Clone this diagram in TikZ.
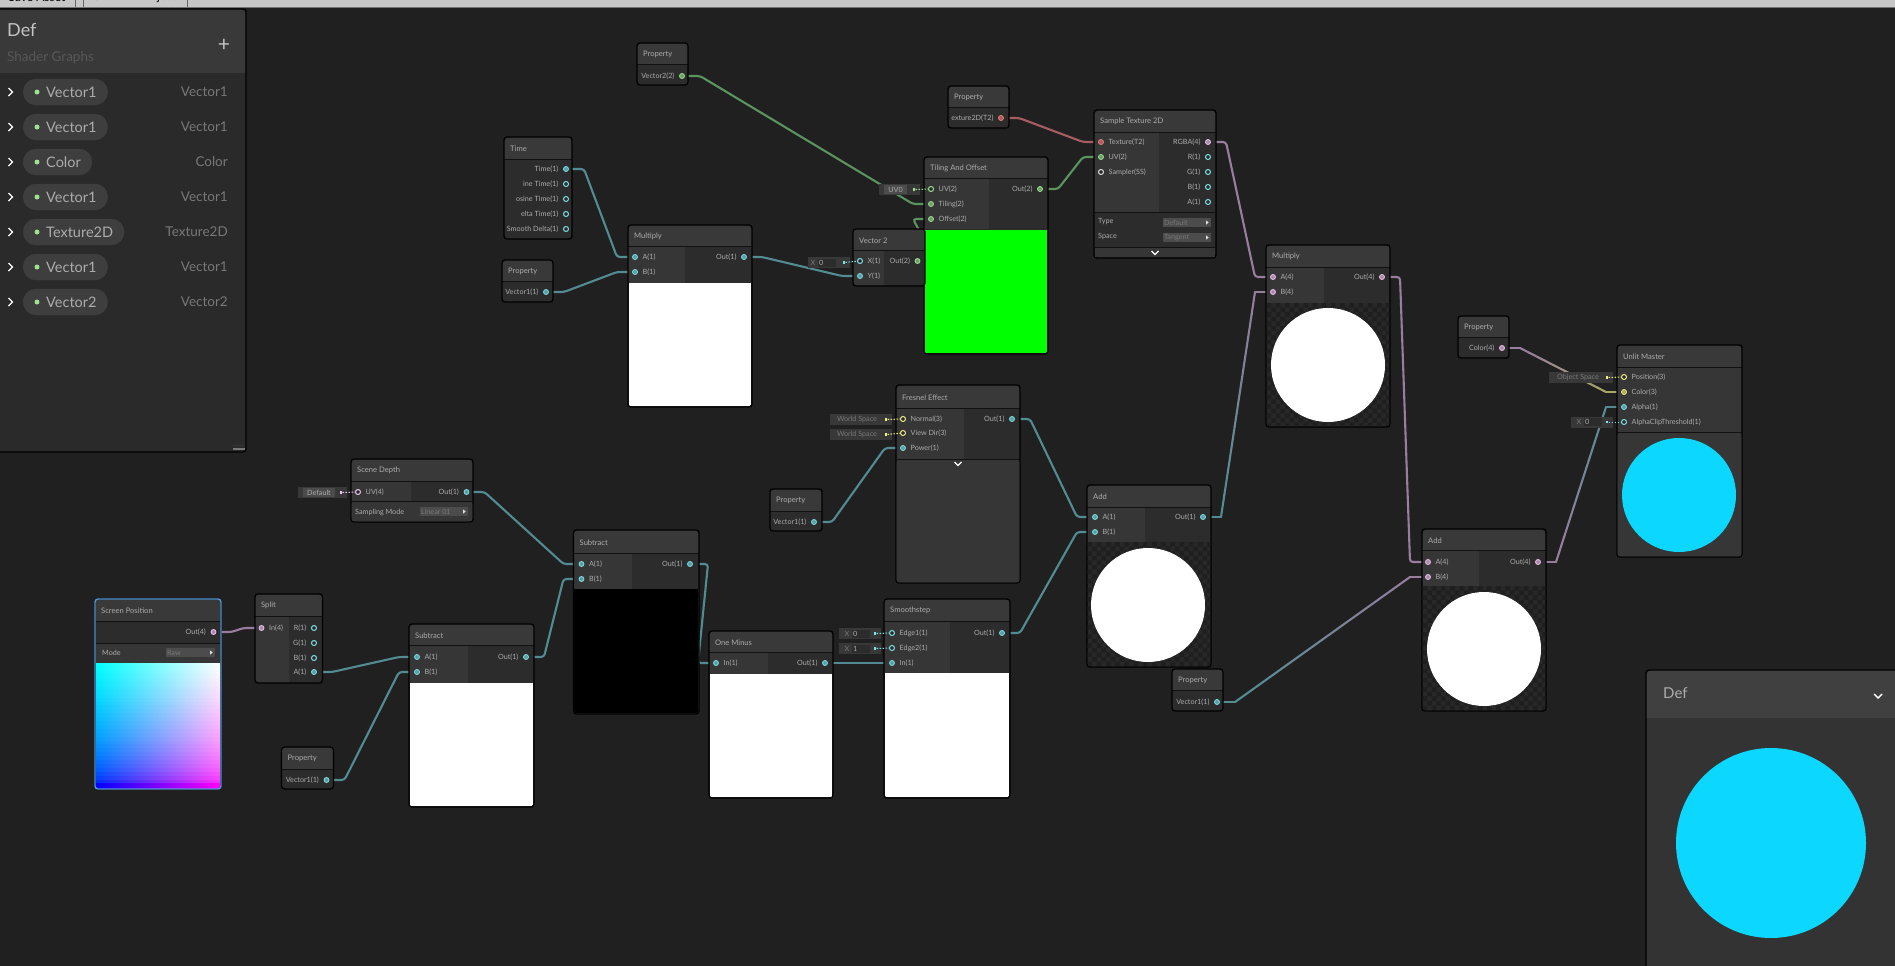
\documentclass[tikz,border=0pt]{standalone}
\usepackage{fontspec}
\setmainfont{Lato}
\usetikzlibrary{calc,fit}
\definecolor{canvasbg}{RGB}{32,32,32}
\definecolor{cardhead}{RGB}{57,57,57}
\definecolor{cardcol}{RGB}{54,54,54}
\definecolor{cardout}{RGB}{44,44,44}
\definecolor{cardtext}{RGB}{172,172,172}
\definecolor{brighttext}{RGB}{196,196,196}
\definecolor{dimtext}{RGB}{120,120,120}
\definecolor{faintext}{RGB}{88,88,88}
\definecolor{paneldark}{RGB}{42,42,42}
\definecolor{pillfill}{RGB}{62,62,62}
\definecolor{tagfill}{RGB}{56,56,56}
\definecolor{btnfill}{RGB}{76,76,76}
\definecolor{checklight}{RGB}{40,40,40}
\definecolor{checkdark}{RGB}{31,31,31}
\definecolor{discblue}{RGB}{11,215,255}
\definecolor{mainhead}{RGB}{64,64,64}
\definecolor{mainbody}{RGB}{51,51,51}
\definecolor{pcyan}{RGB}{126,226,232}
\definecolor{pgreen}{RGB}{156,226,144}
\definecolor{ppink}{RGB}{240,196,240}
\definecolor{pred}{RGB}{240,128,128}
\definecolor{pyellow}{RGB}{240,240,136}
\definecolor{pwhite}{RGB}{224,224,224}
\definecolor{wireteal}{RGB}{82,140,146}
\definecolor{wiregreen}{RGB}{92,148,96}
\definecolor{wirered}{RGB}{166,92,96}
\definecolor{wirepurple}{RGB}{153,125,158}
\definecolor{wireyellow}{RGB}{166,166,100}
\pgfdeclarelayer{canvas}
\pgfdeclarelayer{wires}
\pgfsetlayers{canvas,wires,main}

% card: name, x1, y1, x2, y2, head bottom, column edge, ports bottom, title
\newcommand{\gcard}[9]{
  \begin{scope}
    \clip[rounded corners=3pt] (#2,#3) rectangle (#4,#5);
    \fill[cardout] (#2,#3) rectangle (#4,#5);
    \fill[cardhead] (#2,#3) rectangle (#4,#6);
    \fill[cardcol] (#2,#6) rectangle (#7,#8);
  \end{scope}
  \draw[black!70!cardhead] (#2,#6) -- (#4,#6);
  \node[cardbody, fit={(#2,#3)(#4,#5)}] (#1) {};
  \node[cardtitle] (#1-t) at ($(#2,#3)!.5!(#2,#6)+(6,.8)$) {#9};
}
\newcommand{\inport}[5]{
  \node[#4] (#1) at (#2,#3) {};
  \node[portlabel, anchor=west] (#1-l) at ([xshift=4.5pt,yshift=-.4pt]#1.east) {#5};
}
\newcommand{\outport}[5]{
  \node[#4] (#1) at (#2,#3) {};
  \node[portlabel, anchor=east] (#1-l) at ([xshift=-4.5pt,yshift=-.4pt]#1.west) {#5};
}
% flat preview below the ports
\newcommand{\flatprev}[5]{
  \begin{scope}
    \clip[rounded corners=3pt] (#1,#2-10) rectangle (#3,#4);
    \fill[#5] (#1,#2) rectangle (#3,#4);
  \end{scope}
}
% checkered preview with a white disc
\newcommand{\discprev}[6]{
  \begin{scope}
    \clip[rounded corners=3pt] (#1,#2-10) rectangle (#3,#4);
    \fill[checklight] (#1,#2) rectangle (#3,#4);
    \foreach \ox in {0,1}
      \fill[checkdark] \foreach \i in {0,2,...,26} { \foreach \j in {0,2,...,26} {
        ({#1+(\i+\ox)*4.6},{#2+(\j+\ox)*4.6}) rectangle ++(4.6,4.6) } };
  \end{scope}
  \fill[white] (#5,#6) circle (57);
}
\newcommand{\tagbox}[5]{
  \node[tagbody, fit={(#2,#3-5.5)(#4,#3+5.5)}] (#1) {};
  \node[tagdot, fill=#5] (#1-d) at (#4-6,#3) {};
}
\newcommand{\xfield}[4]{
  \node[taglabel] (#1-x) at (#2,#3) {X};
  \node[tagfield, anchor=west] (#1-v) at (#2+5,#3) {#4};
}
\newcommand{\dropbox}[6]{
  \node[dropbody, fit={(#2,#3)(#4,#5)}] (#1) {};
  \node[taglabel, anchor=west] (#1-t) at ([xshift=1pt]#1.west) {#6};
  \fill[pwhite] ([xshift=-5pt,yshift=2pt]#1.east) -- ++(2.5,2) -- ++(-2.5,2) -- cycle;
}
\newcommand{\chevdown}[2]{
  \draw[white, line width=1.2pt] (#1-3.5,#2-2) -- (#1,#2+1.5) -- (#1+3.5,#2-2);
}
\newcommand{\gwire}[4]{
  \coordinate (wa) at ($(#1)+(18,0)$);
  \coordinate (wb) at ($(#2)+(-18,0)$);
  \draw[wirepiece=#3] (#1) -- (wa);
  \draw[wirepiece=#4] (wb) -- (#2);
  \foreach \i [evaluate=\i as \j using int(\i+1), evaluate=\i as \m using int(100-\i*10)] in {0,...,9}
    \draw[wirepiece=#3!\m!#4] ($(wa)!\i/10!(wb)$) -- ($(wa)!\j/10!(wb)$);
}

\begin{document}
\begin{tikzpicture}[
  x=1pt, y=-1pt,
  cardbody/.style={rectangle, draw=black, line width=1.3pt, rounded corners=3pt, inner sep=0pt},
  cardtitle/.style={anchor=west, inner sep=0pt, text=cardtext, font=\fontsize{7.6}{9}\selectfont},
  portlabel/.style={inner sep=0pt, text=cardtext, font=\fontsize{7.2}{9}\selectfont},
  port/.style={circle, inner sep=0pt, minimum size=5pt, draw=#1, line width=.8pt, fill=#1!70!black},
  ring/.style={circle, inner sep=0pt, minimum size=5pt, draw=#1, line width=1pt, fill=cardout},
  wire/.style={line width=2.1pt, draw=#1, rounded corners=3pt,
    to path={-- ($(\tikztostart)+(18,0)$) -- ($(\tikztotarget)+(-18,0)$) -- (\tikztotarget)}},
  wirepiece/.style={line width=2.1pt, color=#1, line cap=round},
  stub/.style={draw=#1, line width=1pt, dash pattern=on 1.5pt off 1.5pt},
  tagbody/.style={rectangle, fill=tagfill, inner sep=0pt},
  tagdot/.style={rectangle, inner sep=0pt, minimum size=2.6pt},
  taglabel/.style={inner sep=0pt, text=dimtext, font=\fontsize{7.2}{9}\selectfont},
  tagfield/.style={inner sep=1pt, fill=cardout, minimum height=8pt, align=left, text=cardtext, font=\fontsize{7.2}{9}\selectfont, text width=16pt},
  tagbtn/.style={rectangle, fill=btnfill, inner sep=0pt, minimum height=9pt, text=cardtext, font=\fontsize{7.2}{9}\selectfont},
  dropbody/.style={rectangle, fill=btnfill, inner sep=0pt},
  pill/.style={rectangle, rounded corners=12.9pt, draw=black!75, fill=pillfill, minimum height=26pt, anchor=west, inner sep=0pt, align=left, text=cardtext, font=\fontsize{14.5}{16}\selectfont},
  typelabel/.style={anchor=east, inner sep=0pt, text=dimtext, font=\fontsize{13.5}{16}\selectfont}
]
\useasboundingbox (0,0) rectangle (1895,966);
\clip (0,0) rectangle (1895,966);
\begin{pgfonlayer}{canvas}
  \fill[canvasbg] (0,0) rectangle (1895,966);
\end{pgfonlayer}

% Top strip
\fill[black!22] (0,0) rectangle (1895,7);
\draw[black!55] (0,7.5) -- (1895,7.5);
\draw[black!60] (75.5,0) -- (75.5,7) (83.5,0) -- (83.5,7) (187.5,0) -- (187.5,7);
\begin{scope}
  \clip (0,0) rectangle (1895,7);
  \node[font=\fontsize{12}{14}\selectfont, text=black] (savebtn) at (37,-2.5) {Save Asset};
  \node[font=\fontsize{12}{14}\selectfont, text=black] (showbtn) at (135,-2.5) {Show In Project};
\end{scope}

% Blackboard
\begin{scope}
  \clip[rounded corners=4pt] (-4,9) rectangle (246,452);
  \fill[paneldark] (-4,9) rectangle (246,452);
  \fill[cardhead] (-4,9) rectangle (246,73);
\end{scope}
\node[cardbody, fit={(-4,9)(246,452)}] (board) {};
\node[anchor=west, inner sep=0pt, text=brighttext, font=\fontsize{18}{22}\selectfont] (boardname) at (7,30) {Def};
\node[anchor=west, inner sep=0pt, text=faintext, font=\fontsize{13.5}{16}\selectfont] (boardsub) at (7,57.5) {Shader Graphs};
\node[inner sep=0pt, text=brighttext, font=\fontsize{21}{22}\selectfont] (boardadd) at (224,45) {+};
\draw[black!80] (233,445) -- (245,445);
\draw[dimtext, line width=1.5pt] (233,449) -- (245,449);
\foreach \i/\lbl in {0/Vector1,1/Vector1,2/Color,3/Vector1,4/Texture2D,5/Vector1,6/Vector2} {
  \pgfmathsetmacro{\rowy}{92+35*\i}
  \draw[white, line width=1.4pt] (8.5,\rowy-4) -- (12.5,\rowy) -- (8.5,\rowy+4);
  \node[pill] (pill\i) at (23,\rowy) {\hspace{23pt}\lbl\hspace{11pt}};
  \fill[pgreen] (37,\rowy) circle (2.5);
  \node[typelabel] (type\i) at (228,\rowy) {\lbl};
}

% Top row
\gcard{propb}{637}{43}{688}{85}{64}{637}{85}{Property}
\outport{propb-o}{682}{76}{port=pgreen}{Vector2(2)}
\gcard{time}{504}{137}{572}{239}{159}{504}{239}{Time}
\outport{time-a}{566}{169}{port=pcyan}{Time(1)}
\outport{time-b}{566}{184}{ring=pcyan}{ine Time(1)}
\outport{time-c}{566}{199}{ring=pcyan}{osine Time(1)}
\outport{time-d}{566}{214}{ring=pcyan}{elta Time(1)}
\outport{time-e}{566}{229}{ring=pcyan}{Smooth Delta(1)}
\gcard{propa}{502}{260}{553}{302}{281}{502}{302}{Property}
\outport{propa-o}{546}{292}{port=pcyan}{Vector1(1)}
\gcard{mula}{628}{225}{752}{407}{246}{685}{283}{Multiply}
\inport{mula-a}{635}{257}{port=pcyan}{A(1)}
\inport{mula-b}{635}{272}{port=pcyan}{B(1)}
\outport{mula-o}{744}{257}{port=pcyan}{Out(1)}
\flatprev{628.6}{283}{751.4}{406.4}{white}
\gcard{tile}{924}{157}{1048}{354}{178}{989}{229}{Tiling And Offset}
\inport{tile-u}{931}{189}{ring=pgreen}{UV(2)}
\inport{tile-t}{931}{204}{port=pgreen}{Tiling(2)}
\inport{tile-f}{931}{219}{port=pgreen}{Offset(2)}
\outport{tile-o}{1040}{189}{port=pgreen}{Out(2)}
\flatprev{924.6}{229.5}{1047.4}{353.4}{green}
\gcard{veca}{853}{229}{925}{286}{250}{884}{286}{Vector 2}
\inport{veca-x}{860}{261}{ring=pcyan}{X(1)}
\inport{veca-y}{860}{276}{port=pcyan}{Y(1)}
\outport{veca-o}{917.5}{261}{port=pgreen}{Out(2)}
\gcard{propt}{948}{86}{1009}{128}{107}{948}{128}{Property}
\outport{propt-o}{1001}{118}{port=pred}{exture2D(T2)}
\gcard{samp}{1094}{110}{1216}{258}{132}{1159}{212}{Sample Texture 2D}
\fill[cardcol] (1094.7,247) rectangle (1215.3,257);
\draw[black!70!cardhead] (1094,212) -- (1216,212) (1094,247) -- (1216,247);
\inport{samp-t}{1101}{142}{port=pred}{Texture(T2)}
\inport{samp-u}{1101}{157}{port=pgreen}{UV(2)}
\inport{samp-s}{1101}{172}{ring=pwhite}{Sampler(SS)}
\outport{samp-o}{1208}{142}{port=ppink}{RGBA(4)}
\outport{samp-r}{1208}{157}{ring=pcyan}{R(1)}
\outport{samp-g}{1208}{172}{ring=pcyan}{G(1)}
\outport{samp-b}{1208}{187}{ring=pcyan}{B(1)}
\outport{samp-e}{1208}{202}{ring=pcyan}{A(1)}
\node[portlabel, anchor=west] (samp-ty) at (1098,222) {Type};
\node[portlabel, anchor=west] (samp-sp) at (1098,237) {Space};
\dropbox{samp-dt}{1163}{218}{1211}{227}{Default}
\dropbox{samp-ds}{1163}{233}{1211}{242}{Tangent}
\chevdown{1155}{253}
\gcard{mulb}{1266}{245}{1390}{427}{267}{1324}{303}{Multiply}
\inport{mulb-a}{1273}{277}{port=ppink}{A(4)}
\inport{mulb-b}{1273}{292}{port=ppink}{B(4)}
\outport{mulb-o}{1382}{277}{port=ppink}{Out(4)}
\discprev{1266.6}{303}{1389.4}{426.4}{1328}{365}

% Middle row
\gcard{fres}{896}{385}{1020}{583}{408}{964}{459}{Fresnel Effect}
\fill[cardcol, rounded corners=2pt] (896.7,460) rectangle (1019.3,582.3);
\draw[black!70!cardhead] (896,459) -- (1020,459);
\inport{fres-n}{903}{419}{ring=pyellow}{Normal(3)}
\inport{fres-v}{903}{433}{ring=pyellow}{View Dir(3)}
\inport{fres-p}{903}{448}{port=pcyan}{Power(1)}
\outport{fres-o}{1012}{419}{port=pcyan}{Out(1)}
\chevdown{958}{464}
\gcard{propf}{770}{489}{822}{531}{511}{770}{531}{Property}
\outport{propf-o}{814}{522}{port=pcyan}{Vector1(1)}
\gcard{adda}{1087}{485}{1211}{667}{507}{1145}{542}{Add}
\inport{adda-a}{1095}{517}{port=pcyan}{A(1)}
\inport{adda-b}{1095}{532}{port=pcyan}{B(1)}
\outport{adda-o}{1203}{517}{port=pcyan}{Out(1)}
\discprev{1087.6}{542}{1210.4}{666.4}{1148}{605}
\gcard{depth}{351}{459}{473}{522}{481}{411}{501}{Scene Depth}
\fill[cardcol, rounded corners=2pt] (351.7,502) rectangle (472.3,521.3);
\draw[black!70!cardhead] (351,501) -- (473,501);
\inport{depth-u}{358}{492}{ring=ppink}{UV(4)}
\outport{depth-o}{466.5}{492}{port=pcyan}{Out(1)}
\node[portlabel, anchor=west] (depth-m) at (355,512) {Sampling Mode};
\dropbox{depth-d}{420}{507}{468}{516}{Linear 01}
\gcard{suba}{573.5}{530}{699}{714}{553}{632}{589}{Subtract}
\inport{suba-a}{581.5}{564}{port=pcyan}{A(1)}
\inport{suba-b}{581.5}{579}{port=pcyan}{B(1)}
\outport{suba-o}{690}{564}{port=pcyan}{Out(1)}
\flatprev{574.1}{589}{698.4}{713.4}{black}

% Bottom row
\gcard{screen}{95}{599}{221}{789}{621}{95}{643}{Screen Position}
\fill[cardcol] (95.7,644) rectangle (220.3,663);
\draw[black!70!cardhead] (95,643) -- (221,643);
\outport{screen-o}{213.5}{632}{port=ppink}{Out(4)}
\node[portlabel, anchor=west] (screen-m) at (102,652.5) {Mode};
\dropbox{screen-d}{166}{648}{215}{657}{Raw}
\foreach \i in {0,...,31} {
  \pgfmathsetmacro{\gval}{pow(1-\i/31,0.5)}
  \definecolor{rowl}{rgb}{0,\gval,1}
  \definecolor{rowm}{rgb}{.72,\gval,1}
  \definecolor{rowr}{rgb}{1,\gval,1}
  \shade[left color=rowl, middle color=rowm, right color=rowr] (96,{663+\i*3.9}) rectangle (220,{663+(\i+1)*3.9+.6});
}
\draw[rounded corners=3pt, draw=cyan!60!blue!70!white, line width=1.4pt] (95,599) rectangle (221,789);
\gcard{split}{255}{594}{322.5}{683}{616}{288.5}{683}{Split}
\inport{split-i}{261.5}{628}{port=ppink}{In(4)}
\outport{split-r}{314}{628}{ring=pcyan}{R(1)}
\outport{split-g}{314}{643}{ring=pcyan}{G(1)}
\outport{split-b}{314}{658}{ring=pcyan}{B(1)}
\outport{split-a}{314}{672}{port=pcyan}{A(1)}
\gcard{propd}{281.5}{747}{333.5}{789}{769}{281.5}{789}{Property}
\outport{propd-o}{326.5}{780}{port=pcyan}{Vector1(1)}
\gcard{subb}{409}{624}{534}{807}{645}{468}{683}{Subtract}
\inport{subb-a}{417}{657}{port=pcyan}{A(1)}
\inport{subb-b}{417}{672}{port=pcyan}{B(1)}
\outport{subb-o}{526}{657}{port=pcyan}{Out(1)}
\flatprev{409.6}{683}{533.4}{806.4}{white}
\gcard{minus}{709}{631}{833}{798}{652}{768}{674}{One Minus}
\inport{minus-i}{716}{663}{port=pcyan}{In(1)}
\outport{minus-o}{825}{663}{port=pcyan}{Out(1)}
\flatprev{709.6}{674}{832.4}{797.4}{white}
\gcard{smooth}{884}{599}{1010}{798}{621}{950}{673}{Smoothstep}
\inport{smooth-a}{892}{633}{ring=pcyan}{Edge1(1)}
\inport{smooth-b}{892}{648}{ring=pcyan}{Edge2(1)}
\inport{smooth-i}{892}{663}{port=pcyan}{In(1)}
\outport{smooth-o}{1002}{633}{port=pcyan}{Out(1)}
\flatprev{884.6}{673}{1009.4}{797.4}{white}
\gcard{prope}{1172}{669}{1223}{711}{690}{1172}{711}{Property}
\outport{prope-o}{1217}{702}{port=pcyan}{Vector1(1)}
\gcard{addb}{1422}{529}{1546}{711}{550}{1479}{586}{Add}
\inport{addb-a}{1428}{562}{port=ppink}{A(4)}
\inport{addb-b}{1428}{577}{port=ppink}{B(4)}
\outport{addb-o}{1538}{562}{port=ppink}{Out(4)}
\discprev{1422.6}{586}{1545.4}{710.4}{1484}{649}

% Master
\gcard{propc}{1458}{316}{1509}{358}{337}{1458}{358}{Property}
\outport{propc-o}{1502}{348}{port=ppink}{Color(4)}
\gcard{master}{1617}{345}{1742}{557}{367}{1742}{432}{Unlit Master}
\fill[cardcol, rounded corners=2pt] (1617.7,433) rectangle (1741.3,556.3);
\draw[black!70!cardhead] (1617,432) -- (1742,432);
\inport{master-p}{1624}{377}{ring=pyellow}{Position(3)}
\inport{master-c}{1624}{392}{port=pyellow}{Color(3)}
\inport{master-a}{1624}{407}{port=pcyan}{Alpha(1)}
\inport{master-t}{1624}{422}{ring=pcyan}{AlphaClipThreshold(1)}
\fill[discblue] (1679,495) circle (57);

% Main preview
\begin{scope}
  \clip[rounded corners=5pt] (1646,670) rectangle (1905,980);
  \fill[mainhead] (1646,670) rectangle (1905,718);
  \fill[mainbody] (1646,718) rectangle (1905,980);
\end{scope}
\node[cardbody, fit={(1646,670)(1905,980)}] (main) {};
\node[anchor=west, inner sep=0pt, text=cardtext, font=\fontsize{15}{18}\selectfont] (mainname) at (1663,693) {Def};
\draw[white, line width=1.4pt] (1874,694) -- (1878,698) -- (1882,694);
\fill[discblue] (1771,843) circle (95);

% Tags on unconnected inputs
\tagbox{uvtag}{879}{189.5}{920}{pgreen}
\node[tagbtn, minimum width=23pt] (uvtag-b) at (895.5,189.5) {UV0};
\tagbox{xveca}{808}{262.5}{850}{pcyan}
\xfield{xveca}{813}{262.5}{0}
\tagbox{wsa}{830}{419.5}{892}{pyellow}
\node[taglabel] (wsa-t) at (857,419.5) {World Space};
\tagbox{wsb}{830}{434.5}{892}{pyellow}
\node[taglabel] (wsb-t) at (857,434.5) {World Space};
\tagbox{xsma}{839}{633.5}{881}{pcyan}
\xfield{xsma}{847}{633.5}{0}
\tagbox{xsmb}{839}{648.5}{881}{pcyan}
\xfield{xsmb}{847}{648.5}{1}
\tagbox{deftag}{297.5}{492.5}{347}{ppink}
\node[tagbtn, minimum width=32pt] (deftag-b) at (319,492.5) {Default};
\tagbox{objtag}{1549}{377.5}{1613}{pyellow}
\node[taglabel] (objtag-t) at (1578,377.5) {Object Space};
\tagbox{xmas}{1571}{422}{1613}{pcyan}
\xfield{xmas}{1579}{422}{0}

\draw[stub=pgreen] (uvtag-d) -- (tile-u);
\draw[stub=pcyan] (xveca-d) -- (veca-x);
\draw[stub=pyellow] (wsa-d) -- (fres-n);
\draw[stub=pyellow] (wsb-d) -- (fres-v);
\draw[stub=pcyan] (xsma-d) -- (smooth-a);
\draw[stub=pcyan] (xsmb-d) -- (smooth-b);
\draw[stub=ppink] (deftag-d) -- (depth-u);
\draw[stub=pyellow] (objtag-d) -- (master-p);
\draw[stub=pcyan] (xmas-d) -- (master-t);

% Wires
\begin{pgfonlayer}{wires}
\draw[wire=wireteal] (time-a) to (mula-a);
\draw[wire=wireteal] (propa-o) to (mula-b);
\draw[wire=wireteal] (mula-o) to (veca-y);
\draw[wire=wiregreen] (propb-o) to (tile-t);
\draw[wire=wiregreen] (veca-o) to (tile-f);
\draw[wire=wiregreen] (tile-o) to (samp-u);
\draw[wire=wirered] (propt-o) to (samp-t);
\draw[wire=wirepurple] (samp-o) to (mulb-a);
\draw[wire=wirepurple] (mulb-o) to (addb-a);
\draw[wire=wireteal] (propf-o) to (fres-p);
\draw[wire=wireteal] (fres-o) to (adda-a);
\draw[wire=wireteal] (smooth-o) to (adda-b);
\draw[wire=wireteal] (depth-o) to (suba-a);
\draw[wire=wireteal] (subb-o) to (suba-b);
\draw[wire=wireteal] (suba-o) to (minus-i);
\draw[wire=wireteal] (minus-o) to (smooth-i);
\draw[wire=wirepurple] (screen-o) to (split-i);
\draw[wire=wireteal] (split-a) to (subb-a);
\draw[wire=wireteal] (propd-o) to (subb-b);
\gwire{adda-o}{mulb-b}{wireteal}{wirepurple}
\gwire{prope-o}{addb-b}{wireteal}{wirepurple}
\gwire{addb-o}{master-a}{wirepurple}{wireteal}
\gwire{propc-o}{master-c}{wirepurple}{wireyellow}
\end{pgfonlayer}

\end{tikzpicture}
\end{document}
